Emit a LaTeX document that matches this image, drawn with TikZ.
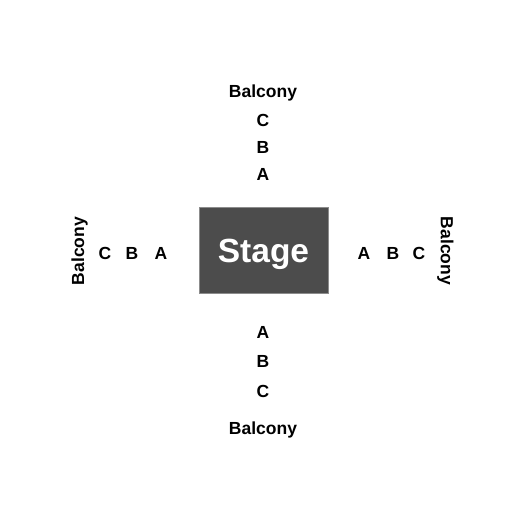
\documentclass[tikz,border=0pt]{standalone}
\usepackage{fontspec}
\setmainfont{Liberation Sans}
\tikzset{
	seat/.style={font=\bfseries\fontsize{17.5}{17.5}\selectfont, inner sep=0pt},
	stagebox/.style={draw=black!45, fill=black!70, line width=0.6pt, minimum width=129pt, minimum height=86pt, text depth=0pt, text=white, font=\bfseries\fontsize{33.5}{33.5}\selectfont}
}

\begin{document}
\begin{tikzpicture}[x=1pt, y=-1pt]
		%%%%% START %%%%%
		\useasboundingbox (0, 0) rectangle (525, 525);
		
		\node[stagebox] (stage) at (263.5, 250.5) {Stage};
		
		% top
		\node[seat] (topbalc) at (263, 92.5) {Balcony};
		\node[seat] (topC) at (263, 120) {C};
		\node[seat] (topB) at (263, 147) {B};
		\node[seat] (topA) at (263, 174) {A};
		
		% bottom
		\node[seat] (botA) at (263, 332) {A};
		\node[seat] (botB) at (263, 361) {B};
		\node[seat] (botC) at (263, 391) {C};
		\node[seat] (botbalc) at (263, 429.5) {Balcony};
		
		% left
		\node[seat, rotate=90] (leftbalc) at (79.5, 251) {Balcony};
		\node[seat] (leftC) at (105, 253) {C};
		\node[seat] (leftB) at (132, 253) {B};
		\node[seat] (leftA) at (161, 253) {A};
		
		% right
		\node[seat] (rightA) at (364, 253) {A};
		\node[seat] (rightB) at (393, 253) {B};
		\node[seat] (rightC) at (419, 253) {C};
		\node[seat, rotate=-90] (rightbalc) at (445.5, 251) {Balcony};
		
		%%%%% END %%%%%
	\end{tikzpicture}
\end{document}
